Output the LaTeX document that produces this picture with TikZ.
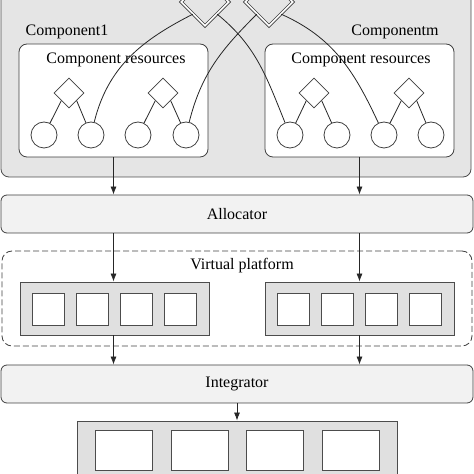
\documentclass[tikz,border=0pt]{standalone}
\usepackage{fontspec}
\setmainfont{Liberation Serif}
\usetikzlibrary{arrows.meta,shapes.geometric}

\begin{document}
\begin{tikzpicture}[x=1pt,y=1pt,line width=0.8pt,
  font=\fontsize{16}{19}\selectfont,
  every node/.style={inner sep=0pt},
  flow/.style={draw=black!85,-{Latex[length=8pt,width=6pt]}},
  wire/.style={draw=black!85},
  outerbox/.style={draw=black!70, fill=black!10, rounded corners=8pt},
  compbox/.style={draw=black!75, fill=white, rounded corners=8pt, minimum width=189pt, minimum height=113pt},
  res/.style={circle, draw=black!75, fill=white, minimum size=26pt},
  sel/.style={diamond, draw=black!75, fill=white, minimum size=30pt},
  topsel/.style={diamond, draw=black!75, double, double distance=1.6pt, minimum size=48pt},
  stagebox/.style={draw=black!75, fill=black!5, rounded corners=6pt, minimum width=472pt, minimum height=38pt},
  vpbox/.style={draw=black!75, dash pattern=on 6pt off 3pt, rounded corners=10pt, minimum width=470pt, minimum height=95pt},
  poolbox/.style={draw=black!70, fill=black!12, minimum width=189pt, minimum height=53pt},
  slot/.style={draw=black!70, fill=white, minimum width=32pt, minimum height=32pt},
  bigslot/.style={draw=black!70, fill=white, minimum width=57pt, minimum height=40pt}]

\useasboundingbox (0,0) rectangle (474,474);
\clip (0,0) rectangle (474,474);

% Components
\node[outerbox, minimum width=470pt, minimum height=197pt] (comp) at (236,395.5) {};
\node (lab1) at (67,442) {Component1};
\node (labm) at (395,442) {Componentm};

\node[compbox] (lres) at (113.5,373.5) {};
\node[compbox] (rres) at (359.5,373.5) {};
\node (lrestext) at (116,414) {Component resources};
\node (rrestext) at (361,414) {Component resources};

% Resources and selectors
\node[sel] (d1) at (69,381) {};
\node[sel] (d2) at (163,381) {};
\node[sel] (d3) at (314,381) {};
\node[sel] (d4) at (409,381) {};

\node[res] (c1) at (44,339) {};
\node[res] (c2) at (91,339) {};
\node[res] (c3) at (138,339) {};
\node[res] (c4) at (186,339) {};
\node[res] (c5) at (290,339) {};
\node[res] (c6) at (337,339) {};
\node[res] (c7) at (384,339) {};
\node[res] (c8) at (431,339) {};

\draw[wire] (d1.south west) -- (c1);
\draw[wire] (d1.south east) -- (c2);
\draw[wire] (d2.south west) -- (c3);
\draw[wire] (d2.south east) -- (c4);
\draw[wire] (d3.south west) -- (c5);
\draw[wire] (d3.south east) -- (c6);
\draw[wire] (d4.south west) -- (c7);
\draw[wire] (d4.south east) -- (c8);

% Shared selectors
\node[topsel] (td1) at (205,472) {};
\node[topsel] (td2) at (269,472) {};

\draw[wire] (td1.south west) to[out=207,in=76] (c2);
\draw[wire] (td1.south east) to[out=321,in=112] (c5);
\draw[wire] (td2.south west) to[out=225,in=76] (c4);
\draw[wire] (td2.south east) to[out=336,in=115] (c7);

% Allocator
\node[stagebox] (alloc) at (237,260) {Allocator};
\draw[flow] (lres.south) -- (lres.south |- alloc.north);
\draw[flow] (rres.south) -- (rres.south |- alloc.north);

% Virtual platform
\node[vpbox] (vp) at (237,175.5) {};
\node (vptext) at (242,208) {Virtual platform};

\node[poolbox] (lpool) at (114.5,165.5) {};
\node[poolbox] (rpool) at (359.5,165.5) {};
\node[slot] (s1) at (48,165) {};
\node[slot] (s2) at (92,165) {};
\node[slot] (s3) at (136.5,165) {};
\node[slot] (s4) at (180.5,165) {};
\node[slot] (s5) at (293,165) {};
\node[slot] (s6) at (337,165) {};
\node[slot] (s7) at (381.5,165) {};
\node[slot] (s8) at (425.5,165) {};

\draw[flow] (lres.south |- alloc.south) -- (lres.south |- lpool.north);
\draw[flow] (rres.south |- alloc.south) -- (rres.south |- rpool.north);

% Integrator
\node[stagebox] (integ) at (237,90) {Integrator};
\draw[flow] (lres.south |- lpool.south) -- (lres.south |- integ.north);
\draw[flow] (rres.south |- rpool.south) -- (rres.south |- integ.north);

% Integrated platform
\node[poolbox, minimum width=320pt, minimum height=63pt] (outbox) at (237,21.5) {};
\node[bigslot] (b1) at (123.5,24) {};
\node[bigslot] (b2) at (199.5,24) {};
\node[bigslot] (b3) at (274.5,24) {};
\node[bigslot] (b4) at (350.5,24) {};
\draw[flow] (integ.south) -- (outbox.north);

\end{tikzpicture}
\end{document}
